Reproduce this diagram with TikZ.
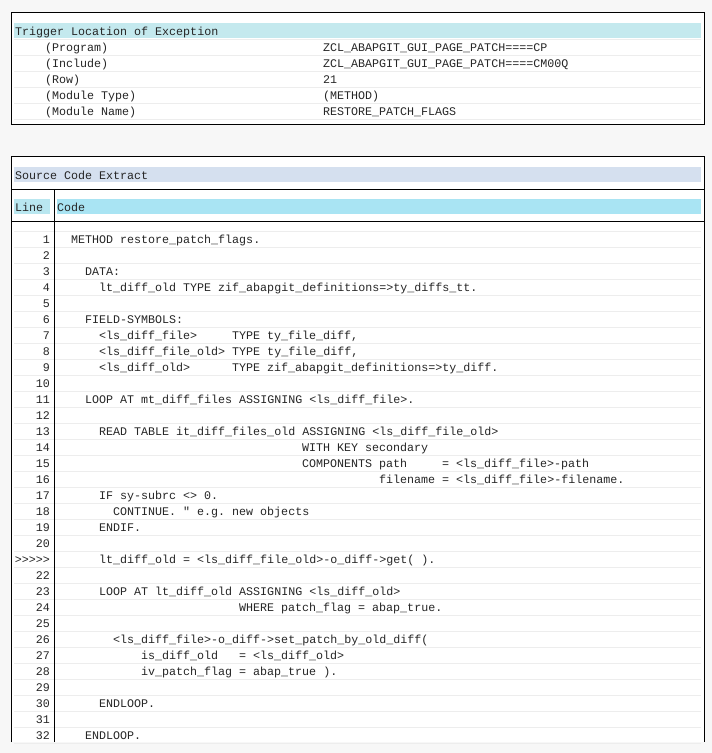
\documentclass[tikz,border=0pt]{standalone}
\usepackage{fontspec}
\setmonofont{Liberation Mono}
\definecolor{pagebg}{HTML}{F7F7F7}
\definecolor{trigband}{HTML}{C4E9EE}
\definecolor{srcband}{HTML}{D5E0EF}
\definecolor{codeband}{HTML}{A9E4F3}
\definecolor{sepline}{HTML}{EDEDED}
\tikzset{code/.style={font=\fontsize{11.67}{12}\ttfamily, inner sep=0pt, text=black!85},
  frame/.style={draw=black, line width=1pt},
  sep/.style={draw=sepline, line width=0.8pt}}
\newcommand\cl[4]{\node[code,anchor=base west] (c#1#2) at ({71+7*#3},{223+16*#1+4}) {#4};}
\newcommand\lnum[2]{\node[code,anchor=base east] (n#1) at (50,{223+16*#1+4}) {#2};}
\begin{document}
\begin{tikzpicture}[x=1pt,y=-1pt]
\useasboundingbox (0,0) rectangle (712,753);
\fill[pagebg] (0,0) rectangle (712,753);
% box 1
\fill[white] (11,12) rectangle (704,124);
\fill[trigband] (14,23) rectangle (701,38);
\foreach \k in {0,...,5} {\draw[sep] (14,{39+16*\k}) -- (701,{39+16*\k});}
\draw[frame] (11,12) rectangle (704,124);
\node[code,anchor=base west] (t0) at (15,35) {Trigger Location of Exception};
\node[code,anchor=base west] (t1) at (45,51) {(Program)};
\node[code,anchor=base west] (t2) at (45,67) {(Include)};
\node[code,anchor=base west] (t3) at (45,83) {(Row)};
\node[code,anchor=base west] (t4) at (45,99) {(Module Type)};
\node[code,anchor=base west] (t5) at (45,115) {(Module Name)};
\node[code,anchor=base west] (v1) at (323,51) {ZCL\_ABAPGIT\_GUI\_PAGE\_PATCH====CP};
\node[code,anchor=base west] (v2) at (323,67) {ZCL\_ABAPGIT\_GUI\_PAGE\_PATCH====CM00Q};
\node[code,anchor=base west] (v3) at (323,83) {21};
\node[code,anchor=base west] (v4) at (323,99) {(METHOD)};
\node[code,anchor=base west] (v5) at (323,115) {RESTORE\_PATCH\_FLAGS};
% box 2
\fill[white] (11,156) rectangle (704,742);
\fill[srcband] (14,167) rectangle (701,182);
\fill[trigband!60!codeband] (14,199) rectangle (50,214);
\fill[codeband] (57,199) rectangle (701,214);
\foreach \k in {0,...,32} {\draw[sep] (14,{231+16*\k}) -- (701,{231+16*\k});}
\draw[frame] (11,742) -- (11,156) -- (704,156) -- (704,742);
\draw[frame] (11,189) -- (704,189);
\draw[frame] (11,221) -- (704,221);
\draw[frame] (54,189) -- (54,742);
\node[code,anchor=base west] (s0) at (15,179) {Source Code Extract};
\node[code,anchor=base west] (h1) at (15,211) {Line};
\node[code,anchor=base west] (h2) at (57,211) {Code};
\foreach \n in {1,...,20,22,23,...,32} {\lnum{\n}{\n}}
\lnum{21}{>>>>>}
\cl{1}{a}{0}{METHOD restore\_patch\_flags.}
\cl{3}{a}{2}{DATA:}
\cl{4}{a}{4}{lt\_diff\_old TYPE zif\_abapgit\_definitions=>ty\_diffs\_tt.}
\cl{6}{a}{2}{FIELD-SYMBOLS:}
\cl{7}{a}{4}{<ls\_diff\_file>}
\cl{7}{b}{23}{TYPE ty\_file\_diff,}
\cl{8}{a}{4}{<ls\_diff\_file\_old> TYPE ty\_file\_diff,}
\cl{9}{a}{4}{<ls\_diff\_old>}
\cl{9}{b}{23}{TYPE zif\_abapgit\_definitions=>ty\_diff.}
\cl{11}{a}{2}{LOOP AT mt\_diff\_files ASSIGNING <ls\_diff\_file>.}
\cl{13}{a}{4}{READ TABLE it\_diff\_files\_old ASSIGNING <ls\_diff\_file\_old>}
\cl{14}{a}{33}{WITH KEY secondary}
\cl{15}{a}{33}{COMPONENTS path}
\cl{15}{b}{53}{= <ls\_diff\_file>-path}
\cl{16}{a}{44}{filename = <ls\_diff\_file>-filename.}
\cl{17}{a}{4}{IF sy-subrc <> 0.}
\cl{18}{a}{6}{CONTINUE. " e.g. new objects}
\cl{19}{a}{4}{ENDIF.}
\cl{21}{a}{4}{lt\_diff\_old = <ls\_diff\_file\_old>-o\_diff->get( ).}
\cl{23}{a}{4}{LOOP AT lt\_diff\_old ASSIGNING <ls\_diff\_old>}
\cl{24}{a}{24}{WHERE patch\_flag = abap\_true.}
\cl{26}{a}{6}{<ls\_diff\_file>-o\_diff->set\_patch\_by\_old\_diff(}
\cl{27}{a}{10}{is\_diff\_old}
\cl{27}{b}{24}{= <ls\_diff\_old>}
\cl{28}{a}{10}{iv\_patch\_flag = abap\_true ).}
\cl{30}{a}{4}{ENDLOOP.}
\cl{32}{a}{2}{ENDLOOP.}
\end{tikzpicture}
\end{document}
